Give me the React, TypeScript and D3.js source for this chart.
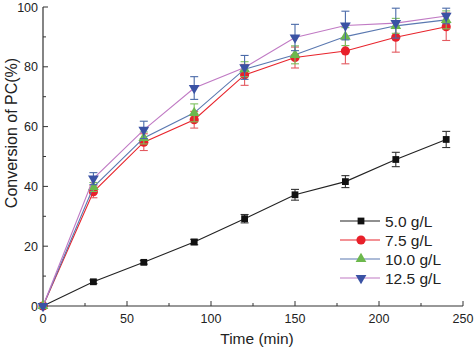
import React, { useEffect, useRef } from 'react';
import * as d3 from 'd3';

const times = [0, 30, 60, 90, 120, 150, 180, 210, 240];
const labels = ['5.0 g/L', '7.5 g/L', '10.0 g/L', '12.5 g/L'];
const conv50 = [0, 8.1, 14.6, 21.4, 29.2, 37.2, 41.6, 49.0, 55.7];
const err50 = [0, 0.6, 0.6, 0.9, 1.4, 1.8, 2.0, 2.4, 2.7];
const conv75 = [0, 38.2, 54.8, 62.3, 77.3, 83.1, 85.3, 89.9, 93.4];
const err75 = [0, 2.0, 2.8, 2.8, 3.5, 3.5, 4.3, 5.0, 4.6];
const conv100 = [0, 39.8, 56.2, 64.6, 79.2, 84.0, 90.1, 93.7, 95.7];
const err100 = [0, 1.5, 2.0, 3.0, 2.5, 3.0, 3.0, 2.5, 3.0];
const conv125 = [0, 42.6, 58.9, 72.9, 79.8, 89.8, 93.8, 94.6, 97.0];
const err125 = [0, 2.0, 2.9, 3.8, 4.0, 4.4, 4.8, 5.0, 2.6];

const xTicks = [0, 50, 100, 150, 200, 250];
const yTicks = [0, 20, 40, 60, 80, 100];

export default function App() {
  const svgRef = useRef<SVGSVGElement>(null);

  useEffect(() => {
    const w = 474;
    const h = 351;
    const svg = d3.select(svgRef.current);
    svg.selectAll('*').remove();
    svg.attr('width', w).attr('height', h).style('background', '#fff');

    const x = d3.scaleLinear().domain([0, 250]).range([43, 463]);
    const y = d3.scaleLinear().domain([0, 100]).range([306, 7]);
    const font = 'Liberation Sans, Arial, sans-serif';

    const series = [
      { name: labels[0], v: conv50, e: err50, line: '#222', fill: '#111', err: '#333', shape: d3.symbolSquare, size: 46 },
      { name: labels[1], v: conv75, e: err75, line: '#e8242c', fill: '#e8202a', err: '#e35a60', shape: d3.symbolCircle, size: 66 },
      { name: labels[2], v: conv100, e: err100, line: '#5a78b0', fill: '#6cb84c', err: '#7cc05c', shape: d3.symbolTriangle, size: 50 },
      { name: labels[3], v: conv125, e: err125, line: '#c07ac4', fill: '#3a52a4', err: '#4a6aa8', shape: d3.symbolTriangle, size: 50, flip: true },
    ];

    // axes
    const axisColor = '#333';
    const xAxis = svg.append('g').attr('transform', `translate(0,${y(0)})`);
    xAxis.append('line').attr('x1', x(0)).attr('x2', x(250)).attr('stroke', axisColor).attr('stroke-width', 1.2);
    d3.range(0, 251, 25).forEach((t) => {
      xAxis.append('line').attr('x1', x(t)).attr('x2', x(t)).attr('y1', 0).attr('y2', t % 50 === 0 ? -5 : -3).attr('stroke', axisColor);
    });
    xAxis.selectAll('text.tick').data(xTicks).join('text')
      .attr('x', (d) => x(d)).attr('y', 17).attr('text-anchor', 'middle')
      .style('font', `12.5px ${font}`).attr('fill', '#222').text((d) => d);

    const yAxis = svg.append('g').attr('transform', `translate(${x(0)},0)`);
    yAxis.append('line').attr('y1', y(0)).attr('y2', y(100)).attr('stroke', axisColor).attr('stroke-width', 1.2);
    d3.range(0, 101, 10).forEach((v) => {
      yAxis.append('line').attr('y1', y(v)).attr('y2', y(v)).attr('x1', 0).attr('x2', v % 20 === 0 ? 5 : 3).attr('stroke', axisColor);
    });
    yAxis.selectAll('text.tick').data(yTicks).join('text')
      .attr('x', -5).attr('y', (d) => y(d) + 4.5).attr('text-anchor', 'end')
      .style('font', `12.5px ${font}`).attr('fill', '#222').text((d) => d);

    svg.append('text').attr('x', 257).attr('y', 344).attr('text-anchor', 'middle')
      .style('font', `15.5px ${font}`).attr('fill', '#222').text('Time (min)');
    svg.append('text').attr('transform', `translate(17,133) rotate(-90)`).attr('text-anchor', 'middle')
      .style('font', `16px ${font}`).attr('fill', '#222').text('Conversion of PC(%)');

    const line = d3.line<number>().x((d, i) => x(times[i])).y((d) => y(d));

    series.forEach((s) => {
      const g = svg.append('g');
      g.append('path').attr('d', line(s.v)).attr('fill', 'none').attr('stroke', s.line).attr('stroke-width', 1.1);
      s.v.forEach((v, i) => {
        if (!s.e[i]) return;
        const cx = x(times[i]);
        const eg = g.append('g').attr('stroke', s.err).attr('stroke-width', 1.1);
        eg.append('line').attr('x1', cx).attr('x2', cx).attr('y1', y(v - s.e[i])).attr('y2', y(v + s.e[i]));
        [v - s.e[i], v + s.e[i]].forEach((b) => {
          eg.append('line').attr('x1', cx - 4).attr('x2', cx + 4).attr('y1', y(b)).attr('y2', y(b));
        });
      });
      g.selectAll('path.m').data(s.v).join('path').attr('class', 'm')
        .attr('d', d3.symbol().type(s.shape).size(s.size)())
        .attr('transform', (d, i) => `translate(${x(times[i])},${y(d)})${s.flip ? ' rotate(180)' : ''}`)
        .attr('fill', s.fill);
    });

    // legend
    const lg = svg.append('g');
    series.forEach((s, i) => {
      const ly = 221 + i * 19;
      lg.append('line').attr('x1', 340).attr('x2', 380).attr('y1', ly).attr('y2', ly).attr('stroke', s.line).attr('stroke-width', 1.1);
      lg.append('path').attr('d', d3.symbol().type(s.shape).size(s.size)())
        .attr('transform', `translate(361,${ly})${s.flip ? ' rotate(180)' : ''}`).attr('fill', s.fill);
      lg.append('text').attr('x', 385).attr('y', ly + 5.5).style('font', `15.5px ${font}`).attr('fill', '#222').text(s.name);
    });
  }, []);

  return <svg ref={svgRef} style={{ position: 'absolute', left: 0, top: 0 }}></svg>;
}
